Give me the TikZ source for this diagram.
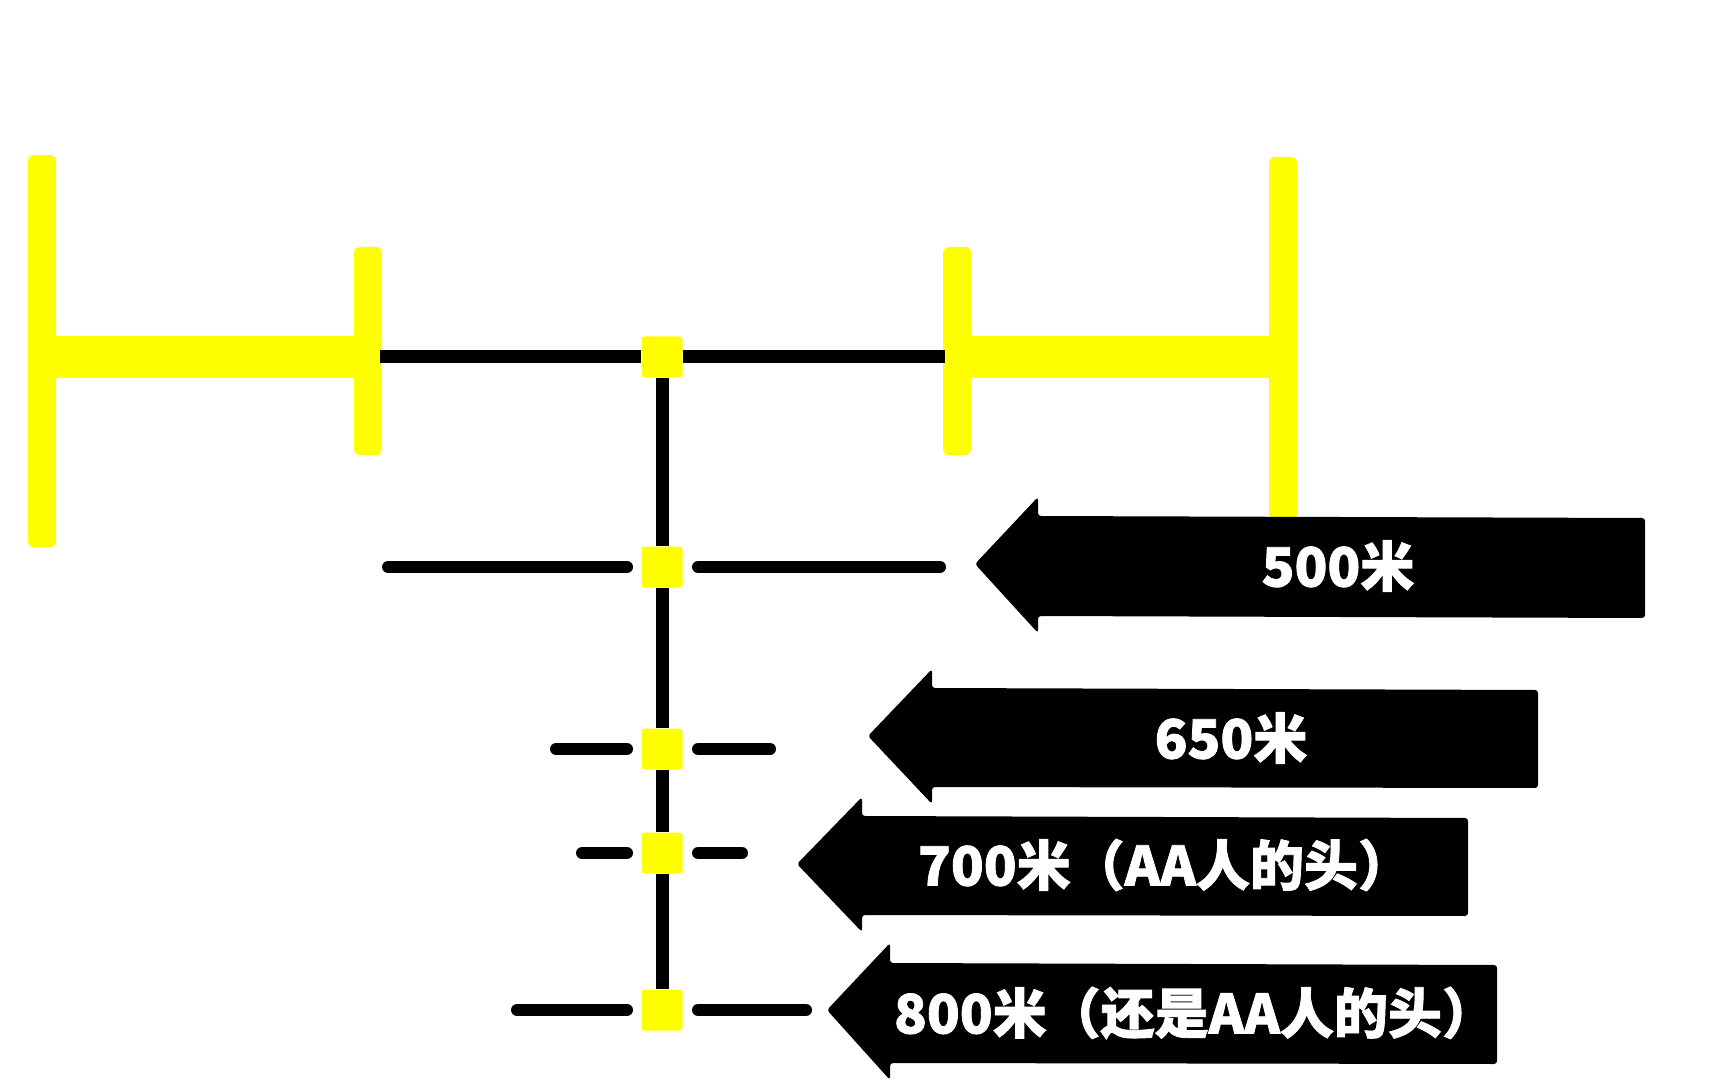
\documentclass[tikz,border=0pt]{standalone}
\usepackage{fontspec}
\newfontfamily\cjk{Noto Sans CJK SC}[BoldFeatures={FakeBold=1.5}]
\begin{document}
\begin{tikzpicture}[x=0.5pt,y=-0.5pt,
  yfill/.style={fill={rgb,255:red,255;green,255;blue,0},rounded corners=3pt},
  bline/.style={draw=black,line width=6.5pt},
  tick/.style={draw=black,line width=6pt,line cap=round},
  sq/.style={fill={rgb,255:red,255;green,255;blue,0},minimum size=20.5pt,inner sep=0pt,rounded corners=1.5pt},
  arr/.style={fill=black,rounded corners=1.5pt},
  lbl/.style={text=white,font=\cjk\bfseries\fontsize{27}{30}\selectfont,inner sep=0pt}]
\useasboundingbox (0,0) rectangle (1728,1080);
% yellow H frames
\fill[yfill] (42,336) rectangle (368,378);
\fill[yfill] (957,336) rectangle (1283,378);
\fill[yfill] (28,155) rectangle (56,547);
\fill[yfill] (354,247) rectangle (382,455);
\fill[yfill] (943,247) rectangle (971,455);
\fill[yfill] (1269,157) rectangle (1297,520);
% nodes (squares)
\node[sq] (s0) at (662,357) {};
\node[sq] (s1) at (662,567) {};
\node[sq] (s2) at (662,749) {};
\node[sq] (s3) at (662,853) {};
\node[sq] (s4) at (662,1010) {};
\coordinate (hl) at (380,357);
\coordinate (hr) at (945,357);
% black lines
\draw[bline] (hl) -- (s0.west);
\draw[bline] (s0.east) -- (hr);
\draw[bline] (s0.south) -- (s1.north);
\draw[bline] (s1.south) -- (s2.north);
\draw[bline] (s2.south) -- (s3.north);
\draw[bline] (s3.south) -- (s4.north);
% ticks
\coordinate (t1l) at (388,567); \coordinate (t1a) at (627,567);
\coordinate (t1b) at (698,567); \coordinate (t1r) at (940,567);
\draw[tick] (t1l) -- (t1a); \draw[tick] (t1b) -- (t1r);
\coordinate (t2l) at (556,749); \coordinate (t2a) at (627,749);
\coordinate (t2b) at (698,749); \coordinate (t2r) at (770,749);
\draw[tick] (t2l) -- (t2a); \draw[tick] (t2b) -- (t2r);
\coordinate (t3l) at (582,853); \coordinate (t3a) at (627,853);
\coordinate (t3b) at (698,853); \coordinate (t3r) at (742,853);
\draw[tick] (t3l) -- (t3a); \draw[tick] (t3b) -- (t3r);
\coordinate (t4l) at (517,1010); \coordinate (t4a) at (627,1010);
\coordinate (t4b) at (698,1010); \coordinate (t4r) at (806,1010);
\draw[tick] (t4l) -- (t4a); \draw[tick] (t4b) -- (t4r);
% arrows
\fill[arr] (1645,518) -- (1038,516) -- (1038,497) -- (975,564) -- (1038,633) -- (1038,616) -- (1645,618) -- cycle;
\fill[arr] (1538,690) -- (932,688) -- (932,669) -- (868,736) -- (932,804) -- (932,787) -- (1538,788) -- cycle;
\fill[arr] (1468,818) -- (862,816) -- (862,797) -- (797,864) -- (862,932) -- (862,915) -- (1468,916) -- cycle;
\fill[arr] (1497,965) -- (890,963) -- (890,943) -- (827,1010) -- (890,1080) -- (890,1063) -- (1497,1064) -- cycle;
% labels
\node[lbl] (l500) at (1338,566) {500米};
\node[lbl] (l650) at (1231,738) {650米};
\node[lbl] (l700) at (1165,865) {700米（AA人的头）};
\node[lbl] (l800) at (1195,1013) {800米（还是AA人的头）};
\end{tikzpicture}
\end{document}
